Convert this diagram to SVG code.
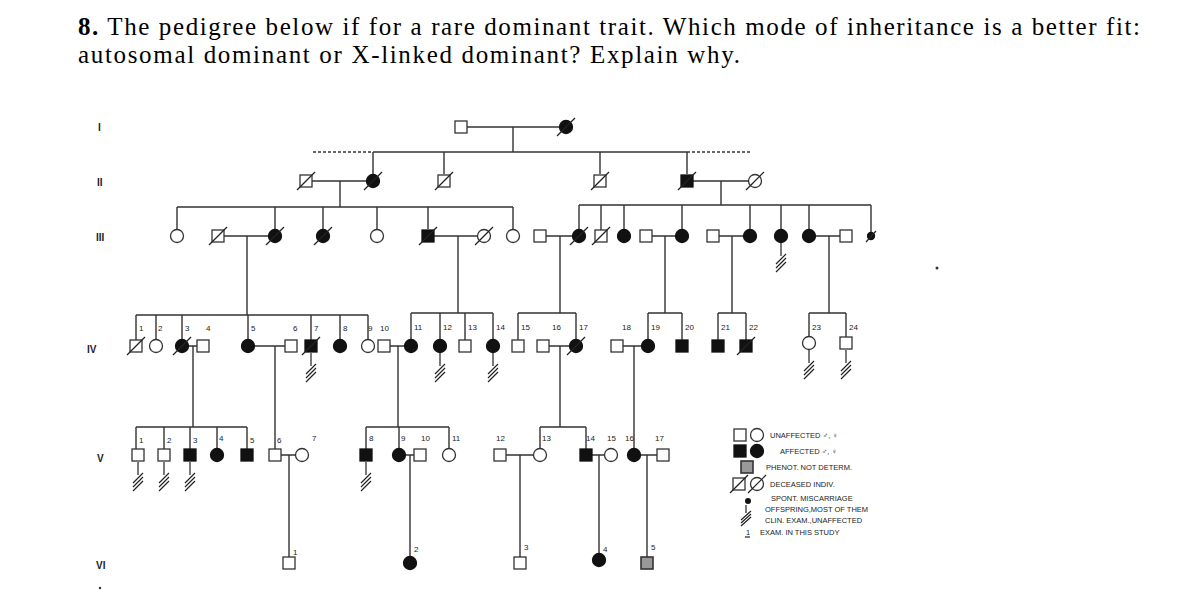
<svg xmlns="http://www.w3.org/2000/svg" xmlns:xlink="http://www.w3.org/1999/xlink" width="1182" height="616" viewBox="0 0 1182 616">
<style>
.t{font-family:"Liberation Serif",serif;font-size:25px;fill:#000}
.g{font-family:"Liberation Sans",sans-serif;font-size:10px;font-weight:bold;fill:#222}
.n{font-family:"Liberation Sans",sans-serif;font-size:8px;fill:#222}
.lg{font-family:"Liberation Sans",sans-serif;font-size:7.5px;fill:#222}
.u{fill:#fff;stroke:#333;stroke-width:1.3}
.a{fill:#111;stroke:#111;stroke-width:1.3}
.gr{fill:#999;stroke:#333;stroke-width:1.6}
.l{stroke:#333;stroke-width:1.4;fill:none}
.d{stroke:#333;stroke-width:1.4;fill:none;stroke-dasharray:3 2}
.s{stroke:#222;stroke-width:1.2;fill:none}
</style>
<defs>
<rect id="sq" x="-6" y="-6" width="12" height="12"/>
<circle id="ci" r="6.5"/>
<path id="sl" class="s" d="M-9,9 L9,-9"/>
<path id="os" class="s" d="M0,7 V20 M-5,28 L5,18 M-5,32 L5,22 M-5,36 L5,26"/>
</defs>
<text class="t" x="78" y="35" textLength="1062" lengthAdjust="spacing"><tspan font-weight="bold">8.</tspan>  The pedigree below if for a rare dominant trait.  Which mode of inheritance is a better fit:</text>
<text class="t" x="78" y="63" textLength="662" lengthAdjust="spacing">autosomal dominant or X-linked dominant?  Explain why.</text>

<g id="gen-labels">
<text class="g" x="98" y="131">I</text><text class="g" x="97" y="186">II</text><text class="g" x="96" y="241">III</text>
<text class="g" x="87" y="353">IV</text><text class="g" x="97" y="462">V</text><text class="g" x="96" y="569">VI</text>
<circle cx="100" cy="588" r="1.2" fill="#333"/><circle cx="937" cy="268" r="1.5" fill="#333"/>
</g>

<g id="connectors">
<path class="l" d="M467,127 H560 M513,127 V152 M373,152 H687 M373,152 V174 M444,152 V174 M600,152 V174 M687,152 V174"/>
<path class="d" d="M313,152 H373 M687,152 H750"/>
<path class="l" d="M312,181 H367 M340,181 V207 M177,207 H513 M177,207 V229 M275,207 V229 M323,207 V229 M377,207 V229 M428,207 V229 M513,207 V229"/>
<path class="l" d="M693,181 H749 M721,181 V205 M579,205 H871 M579,205 V229 M601,205 V230 M624,205 V229 M682,205 V229 M750,205 V229 M781,205 V229 M809,205 V229 M871,205 V232"/>
<path class="l" d="M224,236 H269 M247,236 V315 M434,236 H478 M458,236 V313 M546,236 H573 M560,236 V313 M652,236 H676 M665,236 V313 M719,236 H744 M732,236 V313 M815,236 H840 M829,236 V313"/>
<path class="l" d="M136,315 H368 M136,315 V340 M156,315 V340 M182,315 V340 M248,315 V340 M311,315 V340 M340,315 V340 M368,315 V340"/>
<path class="l" d="M411,313 H493 M411,313 V340 M440,313 V340 M465,313 V340 M493,313 V340"/>
<path class="l" d="M518,313 H576 M518,313 V340 M576,313 V340 M648,313 H682 M648,313 V340 M682,313 V340 M718,313 H746 M718,313 V340 M746,313 V340 M809,313 H846 M809,313 V337 M846,313 V337"/>
<path class="l" d="M188,346 H197 M193,346 V427 M254,346 H285 M275,346 V449 M390,346 H405 M398,346 V427 M549,346 H569 M560,346 V427 M623,346 H642 M634,346 V449"/>
<path class="l" d="M136,427 H247 M136,427 V449 M164,427 V449 M190,427 V449 M217,427 V449 M247,427 V449 M366,427 H449 M366,427 V449 M399,427 V449 M449,427 V449 M540,427 H586 M540,427 V449 M586,427 V449"/>
<path class="l" d="M279,455 H296 M289,455 V557 M405,455 H414 M410,455 V557 M506,455 H533 M520,455 V557 M592,455 H604 M599,455 V554 M640,455 H657 M647,455 V557"/>
</g>

<g id="I-1"><use href="#sq" class="u" x="461" y="127"/></g>
<g id="I-2"><use href="#ci" class="a" x="566" y="127"/><use href="#sl" x="566" y="127"/></g>
<g id="II-1"><use href="#sq" class="u" x="306" y="181"/><use href="#sl" x="306" y="181"/></g>
<g id="II-2"><use href="#ci" class="a" x="373" y="181"/><use href="#sl" x="373" y="181"/></g>
<g id="II-3"><use href="#sq" class="u" x="444" y="181"/><use href="#sl" x="444" y="181"/></g>
<g id="II-4"><use href="#sq" class="u" x="600" y="181"/><use href="#sl" x="600" y="181"/></g>
<g id="II-5"><use href="#sq" class="a" x="687" y="181"/><use href="#sl" x="687" y="181"/></g>
<g id="II-6"><use href="#ci" class="u" x="755" y="181"/><use href="#sl" x="755" y="181"/></g>

<g id="III-a"><use href="#ci" class="u" x="177" y="236"/></g>
<g id="III-b"><use href="#sq" class="u" x="218" y="236"/><use href="#sl" x="218" y="236"/></g>
<g id="III-c"><use href="#ci" class="a" x="275" y="236"/><use href="#sl" x="275" y="236"/></g>
<g id="III-d"><use href="#ci" class="a" x="323" y="236"/><use href="#sl" x="323" y="236"/></g>
<g id="III-e"><use href="#ci" class="u" x="377" y="236"/></g>
<g id="III-f"><use href="#sq" class="a" x="428" y="236"/><use href="#sl" x="428" y="236"/></g>
<g id="III-g"><use href="#ci" class="u" x="484" y="236"/><use href="#sl" x="484" y="236"/></g>
<g id="III-h"><use href="#ci" class="u" x="513" y="236"/></g>
<g id="III-i"><use href="#sq" class="u" x="540" y="236"/></g>
<g id="III-j"><use href="#ci" class="a" x="579" y="236"/><use href="#sl" x="579" y="236"/></g>
<g id="III-k"><use href="#sq" class="u" x="601" y="236"/><use href="#sl" x="601" y="236"/></g>
<g id="III-l"><use href="#ci" class="a" x="624" y="236"/></g>
<g id="III-m"><use href="#sq" class="u" x="646" y="236"/></g>
<g id="III-n"><use href="#ci" class="a" x="682" y="236"/></g>
<g id="III-o"><use href="#sq" class="u" x="713" y="236"/></g>
<g id="III-p"><use href="#ci" class="a" x="750" y="236"/></g>
<g id="III-q"><use href="#ci" class="a" x="781" y="236"/><use href="#os" x="781" y="236"/></g>
<g id="III-r"><use href="#ci" class="a" x="809" y="236"/></g>
<g id="III-s"><use href="#sq" class="u" x="846" y="236"/></g>
<g id="III-t"><circle cx="871" cy="236" r="3.5" class="a"/><path class="s" d="M866,242 L876,231"/></g>

<g id="IV-numbers">
<text class="n" x="139" y="331">1</text><text class="n" x="158" y="331">2</text><text class="n" x="185" y="331">3</text><text class="n" x="206" y="331">4</text>
<text class="n" x="251" y="331">5</text><text class="n" x="293" y="331">6</text><text class="n" x="314" y="331">7</text><text class="n" x="343" y="331">8</text>
<text class="n" x="368" y="331">9</text><text class="n" x="380" y="331">10</text><text class="n" x="414" y="330">11</text><text class="n" x="443" y="330">12</text>
<text class="n" x="468" y="330">13</text><text class="n" x="496" y="330">14</text><text class="n" x="521" y="330">15</text><text class="n" x="552" y="330">16</text>
<text class="n" x="579" y="330">17</text><text class="n" x="622" y="330">18</text><text class="n" x="651" y="330">19</text><text class="n" x="685" y="330">20</text>
<text class="n" x="721" y="330">21</text><text class="n" x="749" y="330">22</text><text class="n" x="812" y="330">23</text><text class="n" x="849" y="330">24</text>
</g>
<g id="IV-1"><use href="#sq" class="u" x="136" y="346"/><use href="#sl" x="136" y="346"/></g>
<g id="IV-2"><use href="#ci" class="u" x="156" y="346"/></g>
<g id="IV-3"><use href="#ci" class="a" x="182" y="346"/><use href="#sl" x="182" y="346"/></g>
<g id="IV-4"><use href="#sq" class="u" x="203" y="346"/></g>
<g id="IV-5"><use href="#ci" class="a" x="248" y="346"/></g>
<g id="IV-6"><use href="#sq" class="u" x="291" y="346"/></g>
<g id="IV-7"><use href="#sq" class="a" x="311" y="346"/><use href="#sl" x="311" y="346"/><use href="#os" x="311" y="346"/></g>
<g id="IV-8"><use href="#ci" class="a" x="340" y="346"/></g>
<g id="IV-9"><use href="#ci" class="u" x="368" y="346"/></g>
<g id="IV-10"><use href="#sq" class="u" x="384" y="346"/></g>
<g id="IV-11"><use href="#ci" class="a" x="411" y="346"/></g>
<g id="IV-12"><use href="#ci" class="a" x="440" y="346"/><use href="#os" x="440" y="346"/></g>
<g id="IV-13"><use href="#sq" class="u" x="465" y="346"/></g>
<g id="IV-14"><use href="#ci" class="a" x="493" y="346"/><use href="#os" x="493" y="346"/></g>
<g id="IV-15"><use href="#sq" class="u" x="518" y="346"/></g>
<g id="IV-16"><use href="#sq" class="u" x="543" y="346"/></g>
<g id="IV-17"><use href="#ci" class="a" x="576" y="346"/><use href="#sl" x="576" y="346"/></g>
<g id="IV-18"><use href="#sq" class="u" x="617" y="346"/></g>
<g id="IV-19"><use href="#ci" class="a" x="648" y="346"/></g>
<g id="IV-20"><use href="#sq" class="a" x="682" y="346"/></g>
<g id="IV-21"><use href="#sq" class="a" x="718" y="346"/></g>
<g id="IV-22"><use href="#sq" class="a" x="746" y="346"/><use href="#sl" x="746" y="346"/></g>
<g id="IV-23"><use href="#ci" class="u" x="809" y="343"/><use href="#os" x="809" y="343"/></g>
<g id="IV-24"><use href="#sq" class="u" x="846" y="343"/><use href="#os" x="846" y="343"/></g>

<g id="V-numbers">
<text class="n" x="139" y="443">1</text><text class="n" x="167" y="443">2</text><text class="n" x="193" y="443">3</text><text class="n" x="219" y="441">4</text>
<text class="n" x="250" y="443">5</text><text class="n" x="277" y="443">6</text><text class="n" x="312" y="441">7</text><text class="n" x="369" y="441">8</text>
<text class="n" x="401" y="441">9</text><text class="n" x="421" y="441">10</text><text class="n" x="452" y="441">11</text><text class="n" x="496" y="441">12</text>
<text class="n" x="542" y="441">13</text><text class="n" x="586" y="441">14</text><text class="n" x="607" y="441">15</text><text class="n" x="625" y="441">16</text>
<text class="n" x="655" y="441">17</text>
</g>
<g id="V-1"><use href="#sq" class="u" x="138" y="455"/><use href="#os" x="138" y="455"/></g>
<g id="V-2"><use href="#sq" class="u" x="164" y="455"/><use href="#os" x="164" y="455"/></g>
<g id="V-3"><use href="#sq" class="a" x="190" y="455"/><use href="#os" x="190" y="455"/></g>
<g id="V-4"><use href="#ci" class="a" x="217" y="455"/></g>
<g id="V-5"><use href="#sq" class="a" x="247" y="455"/></g>
<g id="V-6"><use href="#sq" class="u" x="275" y="455"/></g>
<g id="V-7"><use href="#ci" class="u" x="302" y="455"/></g>
<g id="V-8"><use href="#sq" class="a" x="366" y="455"/><use href="#os" x="366" y="455"/></g>
<g id="V-9"><use href="#ci" class="a" x="399" y="455"/></g>
<g id="V-10"><use href="#sq" class="u" x="420" y="455"/></g>
<g id="V-11"><use href="#ci" class="u" x="449" y="455"/></g>
<g id="V-12"><use href="#sq" class="u" x="500" y="455"/></g>
<g id="V-13"><use href="#ci" class="u" x="540" y="455"/></g>
<g id="V-14"><use href="#sq" class="a" x="586" y="455"/></g>
<g id="V-15"><use href="#ci" class="u" x="611" y="455"/></g>
<g id="V-16"><use href="#ci" class="a" x="634" y="455"/></g>
<g id="V-17"><use href="#sq" class="u" x="663" y="455"/></g>

<g id="VI-numbers">
<text class="n" x="293" y="555">1</text><text class="n" x="414" y="552">2</text><text class="n" x="524" y="550">3</text><text class="n" x="603" y="552">4</text><text class="n" x="651" y="550">5</text>
</g>
<g id="VI-1"><use href="#sq" class="u" x="289" y="563"/></g>
<g id="VI-2"><use href="#ci" class="a" x="410" y="563"/></g>
<g id="VI-3"><use href="#sq" class="u" x="520" y="563"/></g>
<g id="VI-4"><use href="#ci" class="a" x="599" y="560"/></g>
<g id="VI-5"><use href="#sq" class="gr" x="647" y="563"/></g>

<g id="legend">
<use href="#sq" class="u" x="740" y="435"/><use href="#ci" class="u" x="757" y="435"/>
<text class="lg" x="770" y="438">UNAFFECTED ♂, ♀</text>
<use href="#sq" class="a" x="740" y="451"/><use href="#ci" class="a" x="757" y="451"/>
<text class="lg" x="780" y="454">AFFECTED  ♂, ♀</text>
<use href="#sq" class="gr" x="747" y="467"/>
<text class="lg" x="766" y="470">PHENOT.  NOT DETERM.</text>
<use href="#sq" class="u" x="739" y="484"/><use href="#sl" x="739" y="484"/><use href="#ci" class="u" x="757" y="484"/><use href="#sl" x="757" y="484"/>
<text class="lg" x="770" y="487">DECEASED INDIV.</text>
<circle cx="748" cy="501" r="3" fill="#111"/>
<text class="lg" x="771" y="501">SPONT. MISCARRIAGE</text>
<path class="s" d="M746,505 V513 M741,520 L751,511 M741,523 L751,514 M741,526 L751,517"/>
<text class="lg" x="765" y="512">OFFSPRING,MOST OF THEM</text>
<text class="lg" x="765" y="523">CLIN. EXAM.,UNAFFECTED</text>
<text class="lg" x="746" y="535">1</text><path class="s" d="M745,537 H750"/>
<text class="lg" x="760" y="535">EXAM.  IN THIS STUDY</text>
</g>
</svg>
